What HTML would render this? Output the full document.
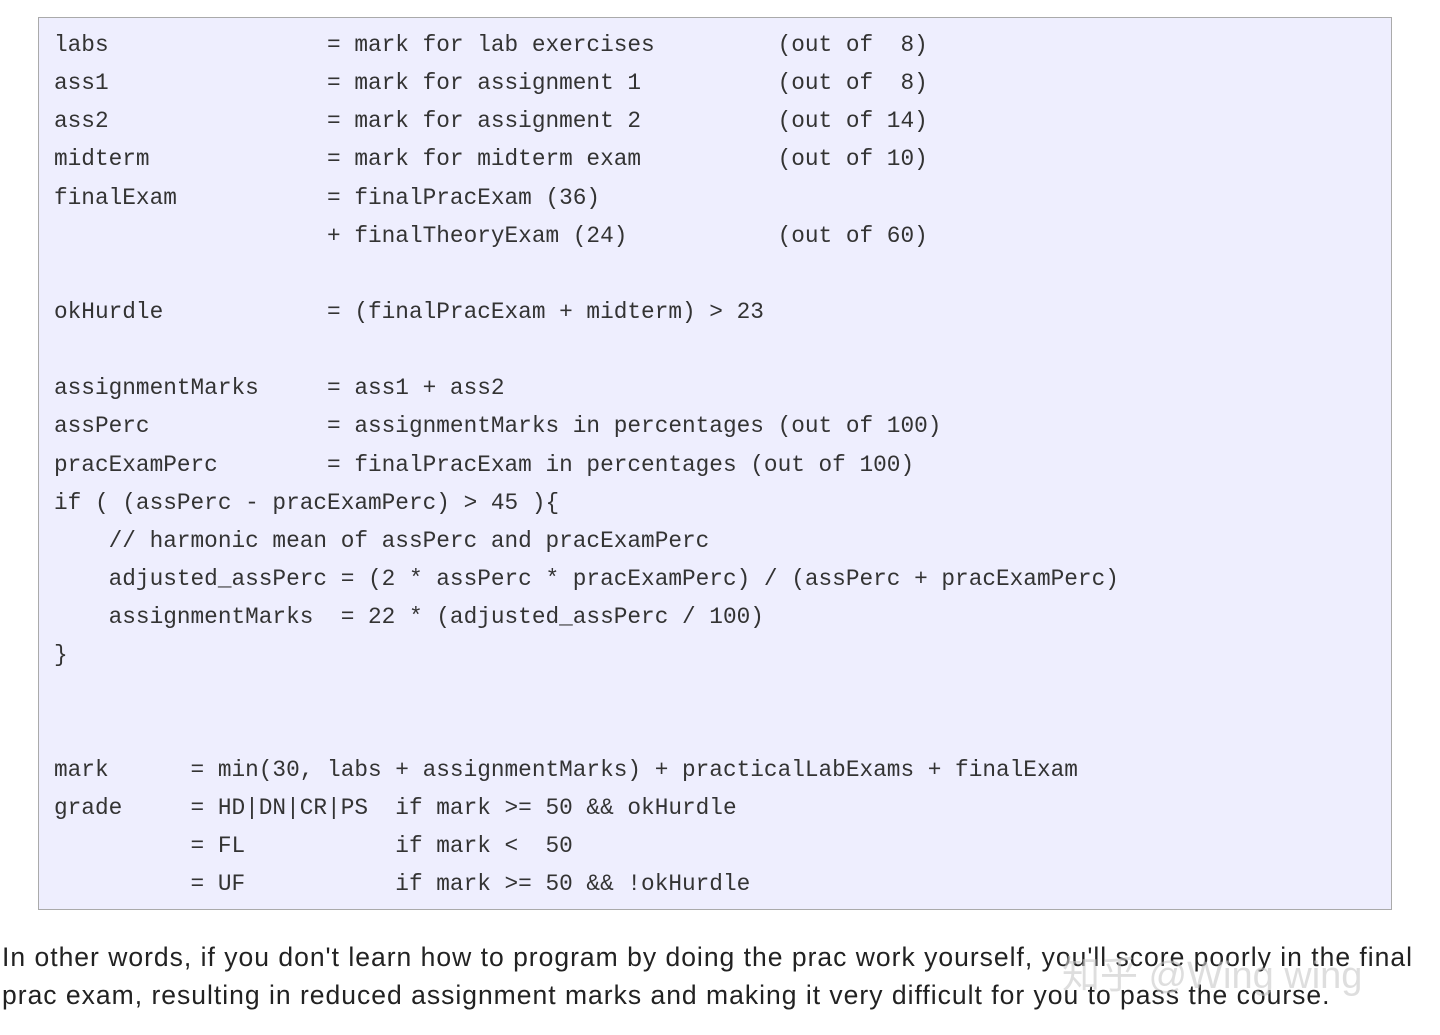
<!DOCTYPE html>
<html><head><meta charset="utf-8"><style>
html,body{margin:0;padding:0;background:#fff;width:1440px;height:1035px;overflow:hidden;position:relative}
.box{position:absolute;left:38px;top:17px;width:1354px;height:893px;background:#eeeefe;border:1px solid #aaaaaa;box-sizing:border-box}
pre{position:absolute;left:15px;top:8px;margin:0;font-family:"Liberation Mono","Noto Sans CJK SC",monospace;font-size:22.75px;line-height:38.14px;color:#333}
.p{position:absolute;left:2px;top:938px;font-family:"Liberation Sans",sans-serif;font-size:26.5px;line-height:38px;color:#222;width:1500px;letter-spacing:1.0px;white-space:nowrap}
.wm{position:absolute;left:1062px;top:944px;font-family:"Liberation Sans","Noto Sans CJK SC",sans-serif;font-size:38px;color:rgba(200,200,200,0.6)}
</style></head><body>
<div class="box"><pre>labs                = mark for lab exercises         (out of  8)
ass1                = mark for assignment 1          (out of  8)
ass2                = mark for assignment 2          (out of 14)
midterm             = mark for midterm exam          (out of 10)
finalExam           = finalPracExam (36)
                    + finalTheoryExam (24)           (out of 60)

okHurdle            = (finalPracExam + midterm) > 23

assignmentMarks     = ass1 + ass2
assPerc             = assignmentMarks in percentages (out of 100)
pracExamPerc        = finalPracExam in percentages (out of 100)
if ( (assPerc - pracExamPerc) > 45 ){
    // harmonic mean of assPerc and pracExamPerc
    adjusted_assPerc = (2 * assPerc * pracExamPerc) / (assPerc + pracExamPerc)
    assignmentMarks  = 22 * (adjusted_assPerc / 100)
}


mark      = min(30, labs + assignmentMarks) + practicalLabExams + finalExam
grade     = HD|DN|CR|PS  if mark >= 50 &amp;&amp; okHurdle
          = FL           if mark &lt;  50
          = UF           if mark >= 50 &amp;&amp; !okHurdle</pre></div>
<div class="p">In other words, if you don't learn how to program by doing the prac work yourself, you'll score poorly in the final<br>prac exam, resulting in reduced assignment marks and making it very difficult for you to pass the course.</div>
<div class="wm">知乎 @Wing wing</div>
</body></html>
